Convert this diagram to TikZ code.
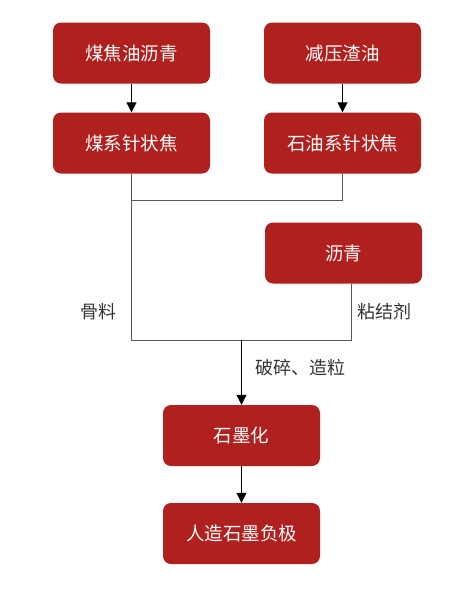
\documentclass[tikz,border=0pt]{standalone}
\usepackage{fontspec}
\newfontfamily\cjk{Noto Sans CJK SC}
\usepackage{tikz}
\usetikzlibrary{arrows.meta}
\usetikzlibrary{positioning}
\definecolor{boxred}{RGB}{176,32,30}
\definecolor{linegray}{RGB}{90,90,90}

\tikzset{
 stepbox/.style={fill=boxred, draw=none, rounded corners=8pt, minimum width=157pt, minimum height=61pt, inner sep=0pt, text=white, font=\cjk\fontsize{18.5}{20}\selectfont},
 flow/.style={draw=black, line width=1pt, -{Triangle[width=10pt,length=10pt]}},
 joinline/.style={draw=linegray, line width=1pt},
 side/.style={text=black!80, font=\cjk\fontsize{18}{20}\selectfont, inner sep=0pt}
}

\begin{document}
\begin{tikzpicture}[x=1pt,y=-1pt]
 \useasboundingbox (0,0) rectangle (474,590);

 \node[stepbox] (tar) at (131.5,53) {煤焦油沥青};
 \node[stepbox] (resid) at (342.5,53) {减压渣油};
 \node[stepbox] (coalcoke) at (131.5,143) {煤系针状焦};
 \node[stepbox] (oilcoke) at (342.5,143) {石油系针状焦};
 \node[stepbox] (pitch) at (343.5,253) {沥青};
 \node[stepbox] (graph) at (241.5,435.5) {石墨化};
 \node[stepbox] (anode) at (241.5,533.5) {人造石墨负极};

 \coordinate (mid) at (131.5,200);
 \coordinate (bl) at (131.5,340);
 \coordinate (br) at (351,340);

 \draw[flow] (tar) -- (coalcoke);
 \draw[flow] (resid) -- (oilcoke);

 \draw[joinline] (oilcoke.south) |- (mid);
 \draw[joinline] (coalcoke.south) -- (bl) -- (br) -- (br |- pitch.south);
 \draw[flow] (graph.north |- bl) -- (graph.north);
 \draw[flow] (graph) -- (anode);

 \node[side] (agg) at (98,312) {骨料};
 \node[side] (bind) at (384,312) {粘结剂};
 \node[side] (crush) at (300,368) {破碎、造粒};

\end{tikzpicture}
\end{document}
